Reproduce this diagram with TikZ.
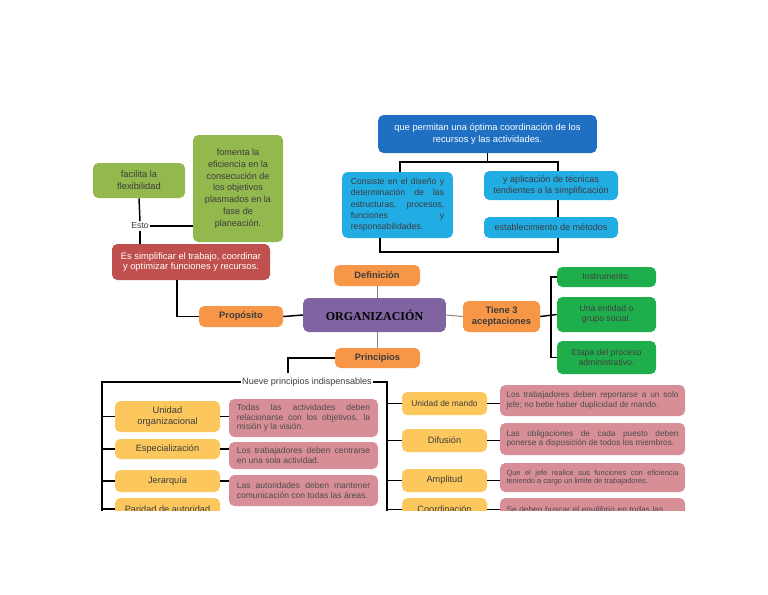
\documentclass[tikz,border=0pt]{standalone}
\usepackage{fontspec}
\setmainfont{Liberation Sans}
\newfontfamily\orgfont{Liberation Serif}
\usepackage{tikz}
\definecolor{olivegr}{HTML}{93B84E}
\definecolor{deepblue}{HTML}{1F6FC2}
\definecolor{skyblue}{HTML}{22ACE4}
\definecolor{brickred}{HTML}{C0504D}
\definecolor{tangerine}{HTML}{F79646}
\definecolor{lavender}{HTML}{8064A2}
\definecolor{leafgr}{HTML}{1FAE4C}
\definecolor{sunyellow}{HTML}{FCC75C}
\definecolor{rosepink}{HTML}{D88E97}
\definecolor{inkgray}{HTML}{3C3C3C}
\hyphenpenalty=10000
\exhyphenpenalty=10000

\begin{document}
\begin{tikzpicture}[x=0.75pt,y=-0.75pt,
  box/.style={rounded corners=4pt,inner sep=2pt,align=center,text=inkgray,font=\fontsize{7}{8.5}\selectfont},
  olivebox/.style={box,fill=olivegr},
  darkbluebox/.style={box,fill=deepblue,text=white,font=\fontsize{7}{9.5}\selectfont},
  lightbluebox/.style={box,fill=skyblue,font=\fontsize{6.8}{8.5}\selectfont},
  redbox/.style={box,fill=brickred,text=white,font=\fontsize{7}{8}\selectfont},
  orangebox/.style={box,fill=tangerine,font=\fontsize{7}{8.5}\selectfont\bfseries},
  greenbox/.style={box,fill=leafgr,text=black!75,font=\fontsize{6.5}{7.8}\selectfont},
  yellowbox/.style={box,fill=sunyellow,font=\fontsize{6.9}{8.3}\selectfont},
  pinkbox/.style={box,fill=rosepink,text=black!70,align=justify,font=\fontsize{6.4}{7.2}\selectfont},
  con/.style={line width=1.1pt},
  thinline/.style={gray,line width=0.7pt}]
\useasboundingbox (0,0) rectangle (768,594);
\begin{scope}
\clip (0,0) rectangle (768,510);

\node[darkbluebox,minimum width=164pt,minimum height=28.5pt] (top) at (487.5,134) {que permitan una óptima coordinación de los\\ recursos y las actividades.};
\node[lightbluebox,minimum width=83pt,minimum height=49.5pt,text width=70pt,align=justify,font=\fontsize{6.5}{8.5}\selectfont] (consiste) at (397.5,205) {Consiste en el diseño y\linebreak determinación de las\linebreak estructuras, procesos,\linebreak funciones y\linebreak responsabilidades.};
\node[lightbluebox,minimum width=100.5pt,minimum height=21.75pt] (aplic) at (551,185.5) {y aplicación de técnicas\\ tendientes a la simplificación};
\node[lightbluebox,minimum width=100.5pt,minimum height=15.75pt] (estab) at (551,227.5) {establecimiento de métodos};

\node[olivebox,minimum width=69pt,minimum height=26.25pt,font=\fontsize{7}{9}\selectfont] (facilita) at (139,180.5) {facilita la\\ flexibilidad};
\node[olivebox,minimum width=67.5pt,minimum height=80.25pt,font=\fontsize{6.8}{8.8}\selectfont] (fomenta) at (238,188.5) {fomenta la\\ eficiencia en la\\ consecución de\\ los objetivos\\ plasmados en la\\ fase de\\ planeación.};
\node[text=inkgray,font=\fontsize{6.5}{8}\selectfont,inner sep=1pt] (esto) at (140,226) {Esto};
\node[redbox,minimum width=118.5pt,minimum height=27pt] (simpl) at (191,262) {Es simplificar el trabajo, coordinar\\ y optimizar funciones y recursos.};

\node[fill=lavender,rounded corners=4pt,minimum width=107pt,minimum height=25.5pt,font=\orgfont\fontsize{9}{10}\selectfont\bfseries] (org) at (374.5,315) {ORGANIZACIÓN};
\node[orangebox,minimum width=63pt,minimum height=15.75pt] (propos) at (241,316.5) {Propósito};
\node[orangebox,minimum width=64.5pt,minimum height=15.75pt] (defin) at (377,275.5) {Definición};
\node[orangebox,minimum width=63.75pt,minimum height=15pt] (princ) at (377.5,358) {Principios};
\node[orangebox,minimum width=57.75pt,minimum height=23.25pt] (tiene) at (501.5,316.5) {Tiene 3\\ aceptaciones};

\node[greenbox,minimum width=74.25pt,minimum height=15pt] (instr) at (606.5,277) {Instrumento.};
\node[greenbox,minimum width=74.25pt,minimum height=26.25pt] (entidad) at (606.5,314.5) {Una entidad o\\ grupo social.};
\node[greenbox,minimum width=74.25pt,minimum height=24.75pt] (etapa) at (606.5,357.5) {Etapa del proceso\\ administrativo.};

\node[text=inkgray,font=\fontsize{6.8}{8}\selectfont,inner sep=1pt] (nueve) at (307,382) {Nueve principios indispensables};

\node[yellowbox,minimum width=78.75pt,minimum height=23.25pt,font=\fontsize{7}{8.5}\selectfont] (uorg) at (167.5,416.5) {Unidad\\ organizacional};
\node[yellowbox,minimum width=78.75pt,minimum height=15pt] (espec) at (167.5,449) {Especialización};
\node[yellowbox,minimum width=78.75pt,minimum height=16.5pt] (jerar) at (167.5,481) {Jerarquía};
\node[yellowbox,minimum width=78.75pt,minimum height=16.5pt] (parid) at (167.5,509) {Paridad de autoridad};

\node[pinkbox,minimum width=111.75pt,minimum height=28.5pt,text width=100pt] (lp1) at (303.5,418) {Todas las actividades deben relacionarse con los objetivos, la misión y la visión.};
\node[pinkbox,minimum width=111.75pt,minimum height=20.25pt,text width=100pt] (lp2) at (303.5,455.5) {Los trabajadores deben centrarse en una sola actividad.};
\node[pinkbox,minimum width=111.75pt,minimum height=23.25pt,text width=100pt] (lp3) at (303.5,490.5) {Las autoridades deben mantener comunicación con todas las áreas.};

\node[yellowbox,minimum width=63.75pt,minimum height=17.25pt,font=\fontsize{6.3}{7.5}\selectfont] (umando) at (444.5,403.5) {Unidad de mando};
\node[yellowbox,minimum width=63.75pt,minimum height=17.25pt] (difus) at (444.5,440.5) {Difusión};
\node[yellowbox,minimum width=63.75pt,minimum height=17.25pt] (ampl) at (444.5,480.5) {Amplitud};
\node[yellowbox,minimum width=63.75pt,minimum height=17.25pt] (coord) at (444.5,509.5) {Coordinación};

\node[pinkbox,minimum width=138.75pt,minimum height=23.25pt,text width=129pt,font=\fontsize{6.2}{7.2}\selectfont] (rp1) at (592.5,400.5) {Los trabajadores deben reportarse a un solo jefe; no bebe haber duplicidad de mando.};
\node[pinkbox,minimum width=138.75pt,minimum height=24pt,text width=129pt,font=\fontsize{6.2}{7.2}\selectfont] (rp2) at (592.5,439) {Las obligaciones de cada puesto deben ponerse a disposición de todos los miembros.};
\node[pinkbox,minimum width=138.75pt,minimum height=21.75pt,text width=129pt,font=\fontsize{5.6}{6.6}\selectfont] (rp3) at (592.5,477.5) {Que el jefe realice sus funciones con eficiencia teniendo a cargo un limite de trabajadores.};
\node[pinkbox,minimum width=138.75pt,minimum height=18pt,text width=129pt,align=left,font=\fontsize{6.2}{7.2}\selectfont] (rp4) at (592.5,510) {Se deben buscar el equilibrio en todas las};

% conectores
\coordinate (tl) at (400,162); \coordinate (tr) at (558,162);
\coordinate (bl) at (380,252); \coordinate (br) at (558,252);
\draw[con] (top.south) -- (top.south |- tl);
\draw[con] (consiste.north -| tl) -- (tl) -- (tr) -- (aplic.north -| tr);
\draw[con] (consiste.south -| bl) -- (bl) -- (br) -- (estab.south -| br);
\draw[con] (aplic.south -| br) -- (estab.north -| br);

\draw[con] (facilita.south) -- (esto.north);
\draw[con] (esto.south) -- (simpl.north -| esto);
\draw[con] (esto.east) -- (fomenta.west |- esto);
\coordinate (pk) at (177,0);
\draw[con] (simpl.south -| pk) |- (propos.west);
\draw[con] (propos.east) -- (org.west);
\draw[thinline] (defin.south) -- (org.north -| defin);
\draw[thinline] (org.south -| princ) -- (princ.north);
\draw[thinline] (org.east) -- (tiene.west);

\coordinate (tk) at (551,0);
\draw[con] (tiene.east) -- (entidad.west);
\draw[con] (instr.west) -- (instr.west -| tk) -- (etapa.west -| tk) -- (etapa.west);

\coordinate (pv) at (288,373);
\draw[con] (princ.west) -| (pv);
\coordinate (lx) at (102,0); \coordinate (rx) at (387,0);
\draw[con] (nueve.west) -- (nueve.west -| lx) -- (lx |- 0,520);
\draw[con] (nueve.east) -- (nueve.east -| rx) -- (rx |- 0,520);
\foreach \y/\p in {uorg/lp1,espec/lp2,jerar/lp3}{
  \draw[con] (\y.west -| lx) -- (\y.west);
  \draw[con] (\y.east) -- (\p.west |- \y.east);
}
\draw[con] (parid.west -| lx) -- (parid.west);
\foreach \y/\p in {umando/rp1,difus/rp2,ampl/rp3,coord/rp4}{
  \draw[con] (\y.west -| rx) -- (\y.west);
  \draw[con] (\y.east) -- (\p.west |- \y.east);
}
\end{scope}
\end{tikzpicture}
\end{document}
